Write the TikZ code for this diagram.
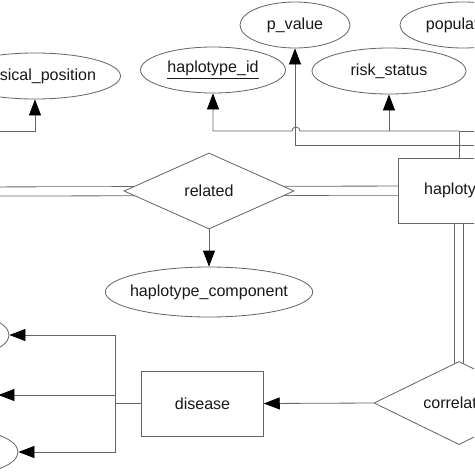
\documentclass[tikz,border=0pt]{standalone}
\usepackage{fontspec}
\setmainfont{Liberation Sans}
\usetikzlibrary{positioning,shapes.geometric,arrows.meta,backgrounds}

\begin{document}
\begin{tikzpicture}[x=0.03cm,y=-0.03cm,
    every node/.style={font=\fontsize{13.7}{16}\selectfont,text=black!90},
    attrib/.style={draw=black!60,line width=0.7pt,ellipse,inner sep=0pt,minimum height=1.38cm,fill=white},
    entity/.style={draw=black!60,line width=0.7pt,rectangle,inner sep=0pt,minimum width=3.65cm,minimum height=1.95cm,fill=white},
    relship/.style={draw=black!60,line width=0.7pt,diamond,inner sep=0pt,minimum width=5.1cm,minimum height=2.28cm,fill=white},
    link/.style={draw=black!60,line width=0.7pt},
    tolink/.style={link,-{Triangle[length=0.48cm,width=0.36cm,color=black]}},
    dbl/.style={draw=black!60,line width=0.7pt,double=white,double distance=0.25cm}]
        \useasboundingbox (0,0) rectangle (474,474);
        \clip (0,0) rectangle (474,474);

        % attributes
        \node [attrib,minimum width=5.1cm,inner xsep=-0.02cm] at (35,76) (physpos){physical\_position};
        \node [attrib,minimum width=4.35cm] at (213,70) (haploid){\underline{haplotype\_id}};
        \node [attrib,minimum width=3.3cm] at (295,25) (pvalue){p\_value};
        \node [attrib,minimum width=4.62cm] at (389,71) (risk){risk\_status};
        \node [attrib,minimum width=3.78cm] at (463,25) (popul){population};
        \node [attrib,minimum width=6.18cm,minimum height=1.5cm,inner xsep=-0.17cm] at (209,292) (hapcomp){haplotype\_component};
        \node [attrib,minimum width=3.6cm] at (-51,335) (attrtop){};
        \node [attrib,minimum width=3.6cm] at (-62,395) (attrmid){};
        \node [attrib,minimum width=3.6cm] at (-42,452) (attrbot){};

        % entities and relationships
        \node [relship] at (209,191) (related){related};
        \node [entity] at (459,190.5) (haplo){haplotype};
        \node [relship] at (459,403) (correl){correlated};
        \node [entity] at (202.5,403.5) (disease){disease};

        \coordinate (leftA) at (0,131);
        \coordinate (leftB) at (0,191.5);
        \coordinate (hubtop) at (459,131);
        \coordinate (rightA) at (474,131);
        \coordinate (rightB) at (474,145);
        \coordinate (hopR) at (300,131);
        \coordinate (riskfoot) at (389,131);
        \coordinate (fork) at (115,403.5);

        \begin{pgfonlayer}{background}
        \draw [dbl] (leftB) -- (related.center);
        \draw [dbl] (related.center) -- (haplo.center);
        \draw [dbl] (haplo.center) -- (correl.center);
        \end{pgfonlayer}

        \draw [tolink] (leftA) -| (physpos.south);
        \draw [link] (haplo.north) -- (hubtop) -- (rightA);
        \draw [tolink] (hubtop) -- (hopR) arc (0:180:0.12cm) -| (haploid.south);
        \draw [tolink] (riskfoot) -- (risk.south);
        \draw [tolink] (rightB) -| (pvalue.south);
        \draw [tolink] (related.south) -- (hapcomp.north);
        \draw [tolink] (correl.west) -- (disease.east);
        \draw [link] (disease.west) -- (fork);
        \draw [tolink] (fork) |- (attrtop.east);
        \draw [tolink] (fork) |- (attrmid.east);
        \draw [tolink] (fork) |- (attrbot.east);
      \end{tikzpicture}
\end{document}
